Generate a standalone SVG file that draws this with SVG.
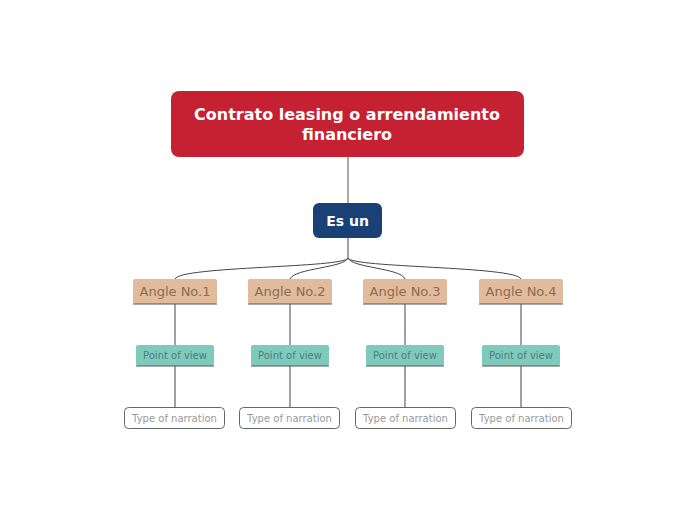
<svg xmlns="http://www.w3.org/2000/svg" width="697" height="520" viewBox="0 0 697 520">
<style>
text{font-family:"DejaVu Sans",sans-serif;text-anchor:middle}
.a rect{fill:#E2BB9C}.a text{fill:#8B6C55;font-size:13px}
.p rect{fill:#7ECBBE}.p text{fill:#4F7D75;font-size:10px}
.t rect{fill:#fff;stroke:#666;stroke-width:1}.t text{fill:#999;font-size:10px}
.u{stroke:#555;stroke-width:1}
#c path{fill:none;stroke:#444;stroke-width:1}
</style>
<rect width="697" height="520" fill="#fff"/>
<g id="c">
<path d="M348 157V203" stroke="#999" style="stroke:#aaa;stroke-width:2"/>
<path d="M348 238V258"/>
<path d="M348 258C345 268 180 266 175 279"/>
<path d="M348 258C344 268 295 268 290 279"/>
<path d="M348 258C352 268 401 268 405 279"/>
<path d="M348 258C351 268 516 266 521 279"/>
<path d="M175 304V345M175 366V407M290 304V345M290 366V407M405 304V345M405 366V407M521 304V345M521 366V407"/>
</g>
<g id="root"><rect x="171" y="91" width="353" height="66" rx="8" fill="#C62033"/>
<text x="347" y="120" fill="#fff" font-size="16" font-weight="bold">Contrato leasing o arrendamiento</text>
<text x="347" y="140" fill="#fff" font-size="16" font-weight="bold">financiero</text></g>
<g id="esun"><rect x="313" y="203" width="69" height="35" rx="6" fill="#1A4175"/>
<text x="347.5" y="226" fill="#fff" font-size="14" font-weight="bold">Es un</text></g>
<g id="a1" class="a"><rect x="133" y="279" width="84" height="25" rx="2"/><line class="u" x1="133" y1="304" x2="217" y2="304"/><text x="175" y="296">Angle No.1</text></g>
<g id="a2" class="a"><rect x="248" y="279" width="84" height="25" rx="2"/><line class="u" x1="248" y1="304" x2="332" y2="304"/><text x="290" y="296">Angle No.2</text></g>
<g id="a3" class="a"><rect x="363" y="279" width="84" height="25" rx="2"/><line class="u" x1="363" y1="304" x2="447" y2="304"/><text x="405" y="296">Angle No.3</text></g>
<g id="a4" class="a"><rect x="479" y="279" width="84" height="25" rx="2"/><line class="u" x1="479" y1="304" x2="563" y2="304"/><text x="521" y="296">Angle No.4</text></g>
<g id="p1" class="p"><rect x="136" y="345" width="78" height="21" rx="2"/><line class="u" x1="136" y1="366" x2="214" y2="366"/><text x="175" y="359">Point of view</text></g>
<g id="p2" class="p"><rect x="251" y="345" width="78" height="21" rx="2"/><line class="u" x1="251" y1="366" x2="329" y2="366"/><text x="290" y="359">Point of view</text></g>
<g id="p3" class="p"><rect x="366" y="345" width="78" height="21" rx="2"/><line class="u" x1="366" y1="366" x2="444" y2="366"/><text x="405" y="359">Point of view</text></g>
<g id="p4" class="p"><rect x="482" y="345" width="78" height="21" rx="2"/><line class="u" x1="482" y1="366" x2="560" y2="366"/><text x="521" y="359">Point of view</text></g>
<g id="t1" class="t"><rect x="124.5" y="407.5" width="100" height="21" rx="4"/><text x="174.5" y="422">Type of narration</text></g>
<g id="t2" class="t"><rect x="239.5" y="407.5" width="100" height="21" rx="4"/><text x="289.5" y="422">Type of narration</text></g>
<g id="t3" class="t"><rect x="355.5" y="407.5" width="100" height="21" rx="4"/><text x="405.5" y="422">Type of narration</text></g>
<g id="t4" class="t"><rect x="471.5" y="407.5" width="100" height="21" rx="4"/><text x="521.5" y="422">Type of narration</text></g>
</svg>
